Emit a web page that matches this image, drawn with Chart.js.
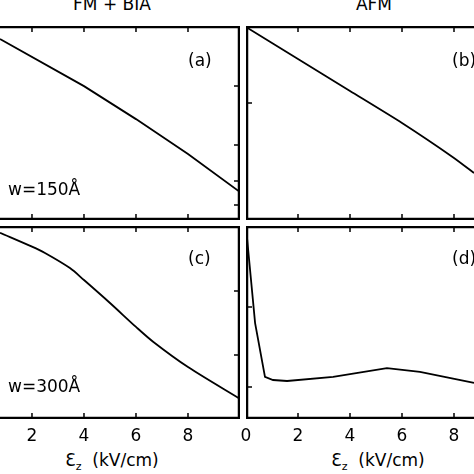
<!DOCTYPE html>
<html>
<head>
<meta charset="UTF-8">
<script src="https://cdn.jsdelivr.net/npm/chart.js"></script>
<style>
  body { margin: 0; width: 474px; height: 474px; overflow: hidden; background: #fff; position: relative; font-family: 'DejaVu Sans', sans-serif; color: #000; }
  .panel { position: absolute; }
  .txt { position: absolute; font-size: 17px; white-space: nowrap; line-height: 1; }
  .c { transform: translateX(-50%); }
</style>
</head>
<body>
<div class="panel" style="left:0;top:26px;width:240px;height:194px"><canvas id="pa"></canvas></div>
<div class="panel" style="left:246px;top:26px;width:240px;height:194px"><canvas id="pb"></canvas></div>
<div class="panel" style="left:0;top:226px;width:240px;height:193px"><canvas id="pc"></canvas></div>
<div class="panel" style="left:246px;top:226px;width:240px;height:193px"><canvas id="pd"></canvas></div>

<div class="txt c" style="left:112px;top:-4px">FM + BIA</div>
<div class="txt c" style="left:374px;top:-4px">AFM</div>
<div class="txt" style="left:188px;top:52px">(a)</div>
<div class="txt" style="left:452px;top:52px">(b)</div>
<div class="txt" style="left:188px;top:250px">(c)</div>
<div class="txt" style="left:452px;top:250px">(d)</div>
<div class="txt" style="left:8px;top:181px">w=150Å</div>
<div class="txt" style="left:8px;top:378px">w=300Å</div>
<div id="ticklabels"></div>
<div class="txt c" style="left:112px;top:452px">Ɛ<sub style="font-size:11px">z</sub>&nbsp; (kV/cm)</div>
<div class="txt c" style="left:378px;top:452px">Ɛ<sub style="font-size:11px">z</sub>&nbsp; (kV/cm)</div>

<script>
// x ticks shared by all panels
const xTicks = [2, 4, 6, 8];
const xTicksRight = [0, 2, 4, 6, 8];

// panel (a) FM + BIA, w=150
const aX = [0.77, 4, 6, 8, 10];
const aY = [0.933, 0.69, 0.52, 0.34, 0.144];
const aYTicks = [0.691, 0.387, 0.201, 0.077];

// panel (b) AFM, w=150
const bX = [0, 2, 4, 6, 8, 8.77];
const bY = [0.995, 0.83, 0.665, 0.5, 0.32, 0.242];
const bYTicks = [0.603];

// panel (c) FM + BIA, w=300
const cX = [0.77, 2, 2.5, 3.46, 4, 5, 6, 6.67, 8, 10];
const cY = [0.965, 0.893, 0.86, 0.782, 0.72, 0.601, 0.477, 0.399, 0.269, 0.104];
const cYTicks = [0.663, 0.332];

// panel (d) AFM, w=300
const dX = [0, 0.35, 0.73, 1.04, 1.58, 3.35, 5.42, 6.69, 8.77];
const dY = [0.995, 0.497, 0.218, 0.202, 0.197, 0.218, 0.264, 0.244, 0.187];
const dYTicks = [0.58, 0.166];

const framePlugin = {
  id: 'frame',
  afterDraw(chart, args, opts) {
    const { ctx, chartArea: a, scales } = chart;
    ctx.save();
    ctx.strokeStyle = '#000';
    ctx.lineWidth = 2.5;
    ctx.strokeRect(a.left + (opts.side === 'left' ? 1 : -2), a.top + 1, a.right - a.left + 1, a.bottom - a.top - 2);
    ctx.lineWidth = 1.5;
    ctx.beginPath();
    xTicks.forEach(v => {
      const px = scales.x.getPixelForValue(v);
      ctx.moveTo(px, a.top); ctx.lineTo(px, a.top + 6);
      ctx.moveTo(px, a.bottom); ctx.lineTo(px, a.bottom - 6);
    });
    opts.yTicks.forEach(v => {
      const py = scales.y.getPixelForValue(v);
      if (opts.side === 'right') { ctx.moveTo(a.right, py); ctx.lineTo(a.right - 6, py); }
      else { ctx.moveTo(a.left, py); ctx.lineTo(a.left + 6, py); }
    });
    ctx.stroke();
    ctx.restore();
  }
};

function panel(id, xs, ys, xmin, xmax, yTicks, side, tension) {
  return new Chart(document.getElementById(id), {
    type: 'line',
    data: { datasets: [{ data: xs.map((x, i) => ({ x, y: ys[i] })), borderColor: '#000', borderWidth: 1.8, pointRadius: 0, tension, fill: false }] },
    options: {
      responsive: true, maintainAspectRatio: false, animation: false,
      layout: { padding: 0 },
      plugins: { legend: { display: false }, tooltip: { enabled: false }, frame: { yTicks, side } },
      scales: {
        x: { type: 'linear', min: xmin, max: xmax, display: false },
        y: { type: 'linear', min: 0, max: 1, display: false }
      }
    },
    plugins: [framePlugin]
  });
}

panel('pa', aX, aY, 0.77, 10, aYTicks, 'right', 0);
panel('pb', bX, bY, 0, 240 / 26, bYTicks, 'left', 0.2);
panel('pc', cX, cY, 0.77, 10, cYTicks, 'right', 0.3);
panel('pd', dX, dY, 0, 240 / 26, dYTicks, 'left', 0);

// x tick labels under the bottom panels
const tl = document.getElementById('ticklabels');
xTicks.forEach(v => {
  const d = document.createElement('div');
  d.className = 'txt c'; d.style.left = ((v - 0.77) * 26) + 'px'; d.style.top = '427px'; d.textContent = v;
  tl.appendChild(d);
});
xTicksRight.forEach(v => {
  const d = document.createElement('div');
  d.className = 'txt c'; d.style.left = (246 + v * 26) + 'px'; d.style.top = '427px'; d.textContent = v;
  tl.appendChild(d);
});
</script>
</body>
</html>
